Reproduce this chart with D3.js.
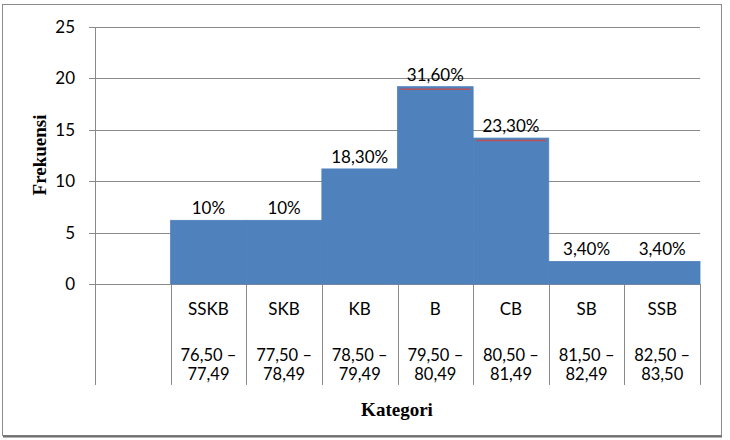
<!DOCTYPE html>
<html>
<head>
<meta charset="utf-8">
<script src="https://cdn.jsdelivr.net/npm/d3@7/dist/d3.min.js"></script>
<style>
  body { margin: 0; background: #fff; }
  text { fill: #000; }
  .sans { font-family: Lato, "Noto Sans", sans-serif; font-size: 17px; }
  .range { font-family: Lato, "Noto Sans", sans-serif; font-size: 16.5px; }
  .serif { font-family: "Liberation Serif", "DejaVu Serif", serif; font-size: 19px; font-weight: bold; }
</style>
</head>
<body>
<svg id="chart" width="730" height="440"></svg>
<script>
// data; the leading blank slot is an empty category
const categories = ["", "SSKB", "SKB", "KB", "B", "CB", "SB", "SSB"];
const ranges = [["", ""], ["76,50 –", "77,49"], ["77,50 –", "78,49"], ["78,50 –", "79,49"],
  ["79,50 –", "80,49"], ["80,50 –", "81,49"], ["81,50 –", "82,49"], ["82,50 –", "83,50"]];
const frequencies = [null, 6, 6, 11, 19, 14, 2, 2];
const percentLabels = ["", "10%", "10%", "18,30%", "31,60%", "23,30%", "3,40%", "3,40%"];
const redTopped = ["B", "CB"];
const yTicks = [0, 5, 10, 15, 20, 25];

const svg = d3.select("#chart");

// frame
svg.append("rect").attr("x", 2.5).attr("y", 4.5).attr("width", 719).attr("height", 431)
  .attr("fill", "#fff").attr("stroke", "#8c8c8c");
svg.append("line").attr("x1", 3).attr("x2", 722).attr("y1", 436.5).attr("y2", 436.5)
  .attr("stroke", "#6e6e6e").attr("stroke-width", 2);

const x = d3.scaleBand().domain(categories).range([95, 700]).padding(0);
const y = d3.scaleLinear().domain([0, 25]).range([284, 27]);

// gridlines
svg.append("g").selectAll("line").data(yTicks).join("line")
  .attr("x1", 89).attr("x2", 700)
  .attr("y1", d => Math.round(y(d)) + 0.5).attr("y2", d => Math.round(y(d)) + 0.5)
  .attr("stroke", "#8a8a8a");

// y axis labels via d3 axis
const yAxis = svg.append("g").attr("transform", "translate(95,0)")
  .call(d3.axisLeft(y).tickValues(yTicks).tickSize(0).tickPadding(20));
yAxis.select(".domain").remove();
yAxis.selectAll("text").attr("class", "sans").attr("fill", "#000").style("font-size", "17px");

// axis vertical line
svg.append("line").attr("x1", 95.5).attr("x2", 95.5).attr("y1", y(25)).attr("y2", 385)
  .attr("stroke", "#8a8a8a");

// category separators below the baseline
svg.append("g").selectAll("line").data(categories.slice(1).concat(["__end"])).join("line")
  .attr("x1", d => Math.round(d === "__end" ? 700 : x(d)) + 0.5)
  .attr("x2", d => Math.round(d === "__end" ? 700 : x(d)) + 0.5)
  .attr("y1", 284).attr("y2", 385)
  .attr("stroke", "#8a8a8a");

// bars
const barData = categories.map((c, i) => ({ c, v: frequencies[i], label: percentLabels[i], r: ranges[i] }))
  .filter(d => d.v !== null);

svg.append("g").selectAll("rect").data(barData).join("rect")
  .attr("x", d => x(d.c)).attr("width", x.bandwidth())
  .attr("y", d => y(d.v) - 2).attr("height", d => y(0) - y(d.v) + 2)
  .attr("fill", "#4f81bd").attr("stroke", "#4f81bd").attr("stroke-width", 0.8);

svg.append("g").selectAll("line").data(barData.filter(d => redTopped.includes(d.c))).join("line")
  .attr("x1", d => x(d.c) + 3).attr("x2", d => x(d.c) + x.bandwidth() - 3)
  .attr("y1", d => y(d.v) + 0.5).attr("y2", d => y(d.v) + 0.5)
  .attr("stroke", "#b9505a").attr("stroke-width", 1.5);

// data labels
svg.append("g").selectAll("text").data(barData).join("text")
  .attr("class", "sans")
  .attr("x", d => x(d.c) + x.bandwidth() / 2)
  .attr("y", d => y(d.v) - 8)
  .attr("text-anchor", "middle")
  .text(d => d.label);

// category labels and ranges
const cat = svg.append("g").selectAll("g").data(barData).join("g")
  .attr("transform", d => `translate(${x(d.c) + x.bandwidth() / 2},0)`);
cat.append("text").attr("class", "sans").attr("text-anchor", "middle").attr("y", 315).text(d => d.c);
cat.append("text").attr("class", "range").attr("text-anchor", "middle").attr("y", 361).text(d => d.r[0]);
cat.append("text").attr("class", "range").attr("text-anchor", "middle").attr("y", 380).text(d => d.r[1]);

// axis titles
svg.append("text").attr("class", "serif").attr("text-anchor", "middle")
  .attr("x", 397).attr("y", 416).text("Kategori");
svg.append("text").attr("class", "serif").attr("text-anchor", "middle")
  .attr("transform", "translate(46,155) rotate(-90)").text("Frekuensi");
</script>
</body>
</html>
